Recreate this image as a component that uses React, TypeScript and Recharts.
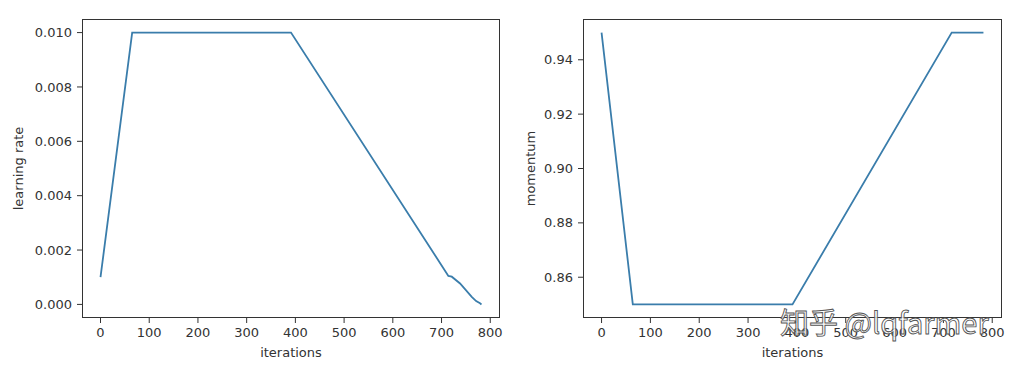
import { LineChart, Line, XAxis, YAxis } from "recharts";

const lrIters = [0, 65, 391, 714, 721, 738, 762, 771, 779, 782];
const lrValues = [0.001, 0.01, 0.01, 0.00105, 0.00102, 0.00077, 0.00028, 0.00012, 0.00004, 0.0];

const momIters = [0, 64, 391, 717, 782];
const momValues = [0.95, 0.85, 0.85, 0.95, 0.95];

const xTicks = [0, 100, 200, 300, 400, 500, 600, 700, 800];
const lrTicks = [0, 0.002, 0.004, 0.006, 0.008, 0.01];
const momTicks = [0.86, 0.88, 0.9, 0.92, 0.94];

const lrData = lrIters.map((it, i) => ({ it, v: lrValues[i] }));
const momData = momIters.map((it, i) => ({ it, v: momValues[i] }));

const LINE = "#3a7dab";
const INK = "#333333";
const FONT = "DejaVu Sans, sans-serif";
const tickStyle = { fill: INK, fontSize: 13, fontFamily: FONT };

type PanelProps = {
  data: { it: number; v: number }[];
  left: number;
  width: number;
  yWidth: number;
  rightMargin: number;
  yDomain: [number, number];
  yTicks: number[];
  digits: number;
  yLabel: string;
  labelOffset: number;
};

function Panel({ data, left, width, yWidth, rightMargin, yDomain, yTicks, digits, yLabel, labelOffset }: PanelProps) {
  const plotLeft = yWidth;
  const plotWidth = width - yWidth - rightMargin;
  return (
    <div style={{ position: "absolute", left, top: 0, width, height: 371 }}>
      <LineChart width={width} height={371} data={data} margin={{ top: 19, right: rightMargin, bottom: 0, left: 0 }}>
        <XAxis
          dataKey="it"
          type="number"
          domain={[-38, 820]}
          ticks={xTicks}
          allowDataOverflow
          height={53}
          axisLine={false}
          tickSize={5}
          tickMargin={5}
          tickLine={{ stroke: INK }}
          tick={tickStyle}
          label={{ value: "iterations", position: "insideBottom", offset: 14, fill: INK, fontSize: 13, fontFamily: FONT }}
        />
        <YAxis
          type="number"
          domain={yDomain}
          ticks={yTicks}
          allowDataOverflow
          width={yWidth}
          axisLine={false}
          tickSize={5}
          tickMargin={5}
          tickLine={{ stroke: INK }}
          tick={tickStyle}
          tickFormatter={(v: number) => v.toFixed(digits)}
          label={{
            value: yLabel,
            angle: -90,
            position: "insideLeft",
            offset: labelOffset,
            fill: INK,
            fontSize: 13,
            fontFamily: FONT,
            style: { textAnchor: "middle" },
          }}
        />
        <Line dataKey="v" type="linear" stroke={LINE} strokeWidth={1.8} dot={false} isAnimationActive={false} />
      </LineChart>
      <div
        style={{
          position: "absolute",
          left: plotLeft,
          top: 19,
          width: plotWidth,
          height: 299,
          border: `1px solid ${INK}`,
          boxSizing: "border-box",
          pointerEvents: "none",
        }}
      />
    </div>
  );
}

export default function App() {
  return (
    <div style={{ position: "absolute", left: 0, top: 0, width: 1021, height: 371, background: "#fff", overflow: "hidden" }}>
      <Panel
        data={lrData}
        left={0}
        width={510}
        yWidth={82}
        rightMargin={10}
        yDomain={[-0.0005, 0.0105]}
        yTicks={lrTicks}
        digits={3}
        yLabel="learning rate"
        labelOffset={18}
      />
      <Panel
        data={momData}
        left={510}
        width={511}
        yWidth={73}
        rightMargin={19}
        yDomain={[0.845, 0.955]}
        yTicks={momTicks}
        digits={2}
        yLabel="momentum"
        labelOffset={20}
      />
      <svg width={1021} height={371} style={{ position: "absolute", left: 0, top: 0, pointerEvents: "none" }}>
        <text
          x={780}
          y={334}
          fontSize={29}
          fontFamily="Noto Sans CJK SC, sans-serif"
          fill="#ffffff"
          fillOpacity={0.85}
          stroke="#555555"
          strokeWidth={0.9}
        >
          知乎 @lqfarmer
        </text>
      </svg>
    </div>
  );
}
